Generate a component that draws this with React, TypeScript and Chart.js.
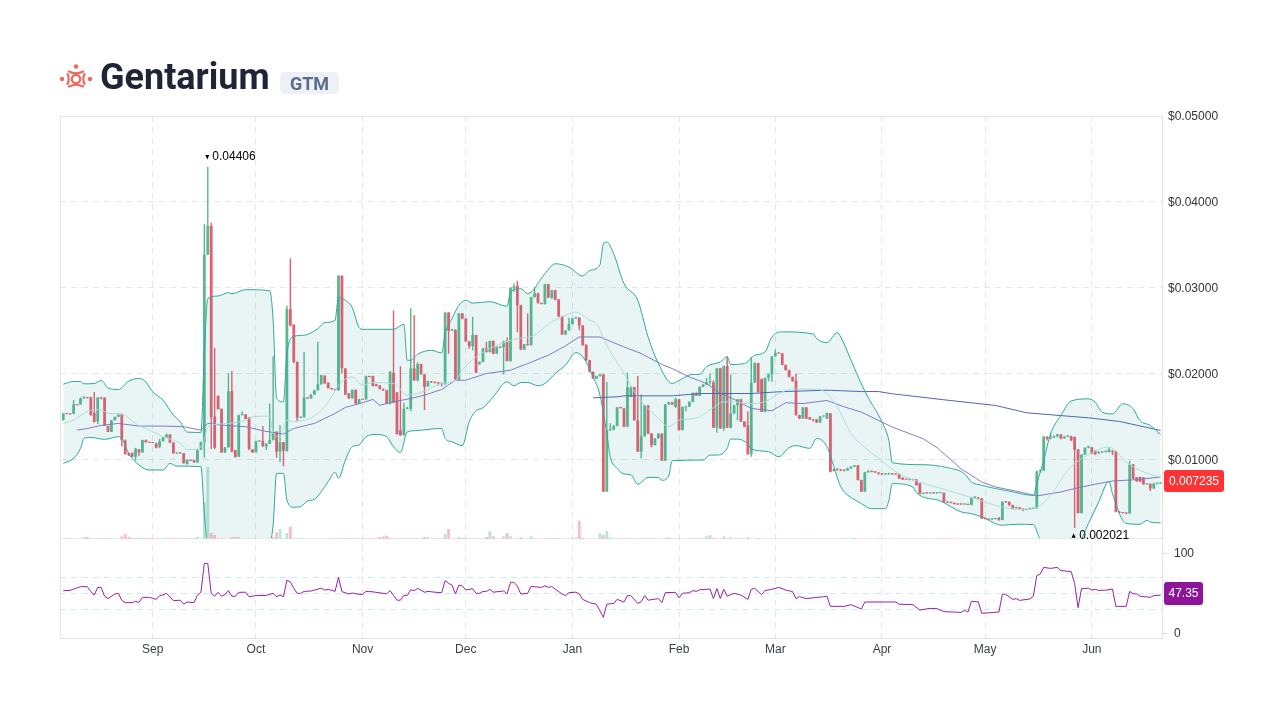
import React, { useEffect, useRef } from 'react';
import Chart from 'chart.js/auto';

// prices below are in thousandths of a dollar
const K = 0.001;

const opens = [
  14.6,15.35,15.3,15.3,16.4,16.4,17.1,17.2,17.2,15.4,
  14.4,17.2,17.2,13.9,13.2,14.55,14.95,15.3,12.2,10.7,
  10.75,10.3,11.15,10.8,12.25,12,11.95,11.85,11.5,12.1,
  12.55,12.9,11.95,10.7,10.75,10.7,9.45,9.95,9.9,9.65,
  11.15,12,33.85,37.2,15,17.4,15.9,10.8,11.4,17.95,
  11.1,10.3,15.15,15.25,14.9,11.15,10.8,12.1,12.15,11.5,
  11.8,12.25,13.2,10.9,12,11,27.5,25.7,21.35,14.85,
  14.9,17.2,17.1,17.55,18.05,18.75,19.75,18.95,18.3,18.2,
  18.05,31.4,20.6,17.7,17.1,18.1,16.5,17,17,19.7,
  19.7,18.75,18.6,18.2,18.05,16.5,20.1,17.8,13.4,12.8,
  15.9,15.9,20.6,19.2,21.1,19.9,18.5,19.05,19,18.95,
  18.9,18.75,27.1,25,25.1,19.3,27,26.4,23.75,23.2,
  24.5,21.1,21.35,22.9,22.5,23.8,22.3,23.1,23.05,23.75,
  21.45,29.9,30.2,27.95,22.8,23.4,23.3,28.9,29.35,28.2,
  28.1,30.4,28.8,29.7,28.65,26.65,24.55,25,25.75,26.4,
  26.5,25.6,23.35,21.55,20.2,19.4,19.7,19.9,6.24,13.4,
  13.45,13.9,16.05,15.95,13.8,17.3,18.4,14.55,10.9,12.7,
  16.3,13,11.65,12.45,13,9.85,16.4,16.65,16.1,17,
  13.4,16.1,16.15,16.7,17.75,17.4,18.45,18.7,18.95,18.95,
  13.7,20.6,13.6,20.85,13.7,15.35,16.3,17,14.4,13.95,
  10.6,18.95,21.2,19.35,15.55,19.5,19.9,22,22.4,22.35,
  21,20.4,19.6,19.2,15.15,14.75,16.05,14.9,14.65,14.65,
  14.3,15,14.75,15.35,8.65,8.85,8.8,8.75,8.7,8.95,
  9.15,9.3,7.6,6.25,8.5,8.6,8.55,8.45,8.35,8.25,
  8.25,8.35,8.3,8.25,7.85,7.7,7.65,7.7,7.65,7.2,
  6,6.1,6.05,6.1,6.05,6.1,6.1,5.05,5,4.95,
  4.8,4.8,4.75,4.8,4.7,5.55,5.55,5.45,3.15,3.1,
  3,3.05,3.2,2.95,5.05,5.05,4.65,4.3,4.4,4.25,
  4.1,4.2,4.25,4.3,8.6,8.7,12.65,12.4,12.55,12.7,
  12.9,12.45,12.65,12.7,12.6,11.15,3.75,10.55,11.35,11.4,
  11,10.75,10.8,10.85,10.85,11,10.95,3.9,3.8,3.75,
  3.7,9.4,7.9,7.95,7.9,7.1,7.15,6.6,7.15,7.2,
];

const closes = [
  15.35,15.3,15.25,16.4,16.3,17.1,17.2,17.15,15.15,14.35,
  17.2,17.1,13.9,13.2,14.55,14.95,15.25,12.25,10.6,10.5,
  10.3,11.25,10.8,12.25,12,11.95,11.9,11.35,12.1,12.55,
  12.9,11.95,10.7,10.75,10.7,9.55,9.95,9.85,9.65,11.15,
  12,33.85,37.2,14.9,11.35,15.85,10.8,11.4,17.95,10.9,
  10.3,15.15,15.25,14.7,11.2,10.8,12.1,12.15,11.55,11.8,
  12.25,13.2,10.9,12,11,27.5,25.6,21.35,14.85,14.9,
  17.2,17.1,17.55,18.05,18.75,19.8,18.85,18.3,18.2,18.1,
  31.4,20.6,17.55,17.1,18.1,16.5,17,16.95,19.7,19.6,
  18.55,18.55,18.2,18.05,16.5,20.2,16.6,12.95,12.8,15.9,
  16,20.6,19.2,21.1,19.9,18.45,19.1,19,18.95,18.85,
  18.8,27.1,25,25.15,19.3,27,26.4,23.75,23.2,24.5,
  20.1,21.35,22.9,22.5,23.8,22.3,23.1,23.05,23.75,21.45,
  30,30.15,27.95,22.8,23.4,23.3,28.9,29.35,28.2,28.1,
  30.4,28.85,29.7,28.6,26.65,24.55,25,25.75,26.4,26.5,
  25.6,23.3,21.55,20.2,19.4,19.7,19.9,6.24,13.4,13.45,
  13.9,16.05,16,13.8,18.4,18.4,14.55,10.9,12.7,16.3,
  13,11.65,12.45,13,9.85,16.4,16.65,16.4,17,13.4,
  16.1,16.15,16.7,17.75,17.4,18.45,18.7,18.95,19,13.7,
  20.6,13.6,20.85,13.7,15.35,16.3,17,14.4,13.8,10.6,
  18.95,21.2,17.85,15.55,19.5,19.9,22,22.4,22.35,21,
  20.4,19.6,19.1,15.15,14.75,16.05,14.75,14.65,14.55,14.3,
  15,15.05,15.4,8.55,8.85,8.8,8.7,8.7,8.95,9.15,
  9.3,7.6,6.25,8.5,8.6,8.55,8.5,8.35,8.25,8.3,
  8.3,8.25,8.25,7.75,7.65,7.65,7.7,7.6,7,6,
  6.1,6.05,6.1,6.05,6.1,6.15,5,4.95,4.95,4.8,
  4.75,4.75,4.8,4.7,5.55,5.6,5.45,3.1,3.1,3,
  3.05,3.1,2.95,5.05,5,4.65,4.25,4.4,4.25,4.1,
  4.2,4.25,4.3,8.6,8.7,12.65,12.4,12.55,12.7,12.9,
  12.4,12.65,12.75,12.2,11.1,3.75,10.55,11.35,11.5,10.65,
  10.6,10.85,10.85,10.95,11.15,10.9,3.9,3.8,3.75,3.7,
  9.4,7.75,7.45,7.4,7.1,7.15,6.6,7.15,7.2,7.235,
];

const highs = [
  15.4,15.35,15.3,16.9,16.4,17.2,17.4,17.2,17.3,17.85,
  17.2,17.3,17.2,13.9,14.6,15,15.4,15.3,12.3,10.8,
  10.8,11.35,11.2,12.3,12.3,12,12,11.9,12.4,12.6,
  13,12.95,12,10.8,10.8,10.7,10,10,9.95,11.2,
  12.05,37.4,44.06,37.6,23,17.45,15.9,11.45,20,20.3,
  11.1,15.2,15.6,15.25,14.9,11.2,12.2,12.2,13.9,11.9,
  16.5,22,13.3,14,12,27.9,33.4,25.7,21.4,15,
  22.5,17.25,17.6,18.1,23.7,19.85,19.8,18.95,18.3,18.2,
  31.45,31.4,20.6,17.7,18.15,18.15,17.05,17.05,19.75,19.75,
  19.75,18.8,18.65,18.25,18.1,20.3,27.35,17.85,20.85,16.6,
  16.1,27.6,26.8,21.3,21.15,19.9,19.2,19.1,19,19,
  18.95,27.2,27.15,25.2,25.15,27.05,27.05,26.4,23.8,26.6,
  24.5,21.4,23,23.7,23.85,23.85,23.15,23.15,23.8,24.2,
  30.05,30.5,30.8,28,23.45,27,28.95,30,29.4,28.25,
  30.45,30.45,29.75,29.75,28.65,26.7,25.05,26.5,26.5,26.6,
  26.55,25.65,23.4,21.6,20.25,19.75,19.95,19.95,19,14.2,
  14,16.1,16.1,16,20.1,18.5,18.45,19.7,17.55,16.35,
  16.3,13.05,12.5,13.05,13,16.45,16.7,16.7,17.2,17.05,
  16.15,16.2,16.75,17.8,17.8,18.5,18.8,19.5,20,19.2,
  20.65,20.65,20.9,22,19.9,16.4,17.05,17.05,14.45,15.6,
  21.9,21.3,21.25,19.4,19.55,20,22.05,22.8,22.45,22.4,
  21.05,20.45,19.65,20,15.2,16.1,16.1,14.95,14.7,14.7,
  15.05,15.1,15.45,15.4,8.95,8.95,8.85,8.8,9.05,9.2,
  9.35,9.35,7.65,8.55,8.75,8.7,8.6,8.5,8.4,8.4,
  8.45,8.4,8.35,8.3,7.9,7.75,7.75,7.75,7.7,7.25,
  6.15,6.15,6.15,6.15,6.2,6.2,6.15,5.1,5,4.95,
  4.85,4.85,4.85,4.85,5.6,5.7,5.6,5.5,3.2,3.1,
  3.1,3.15,3.25,5.1,5.15,5.1,4.7,4.5,4.45,4.3,
  4.3,4.35,4.4,8.7,8.8,12.75,12.7,13.1,12.8,13,
  12.95,12.75,12.85,12.75,12.65,11.2,10.6,11.4,11.6,11.45,
  11.05,10.95,10.95,11.05,11.4,11.05,11,3.95,3.85,3.8,
  9.85,9.45,7.95,8,7.95,7.2,7.2,7.3,7.3,7.3,
];

const lows = [
  14.5,15.25,15.2,15.3,16.3,16.4,17.1,17.1,15.1,14.3,
  14.1,17,13.9,13.2,13.2,14.55,14.95,11.5,10.6,10.4,
  10.3,9.85,10.4,10.8,11.95,11.9,11.9,11.3,11.3,12.1,
  12.5,11.9,10.7,10.65,10.65,9.5,9.4,9.8,9.6,9.6,
  11.1,10.2,33.8,11.2,11.2,15.8,10.75,10.75,11.4,10.8,
  10.2,10.3,15.1,14.7,11.05,10.8,10.8,12.05,11.4,11.1,
  11.8,12.2,10.2,9.7,9.2,10.9,25.5,21.2,14.4,14.8,
  14.85,17.05,17.1,17.55,18,18.7,18.8,18.25,18.1,18,
  18,20,17.5,17.05,17.1,16.4,16.45,16.9,16.95,19.55,
  18.5,18.5,18.15,18,16.45,16.4,16.55,12.9,12.75,12.8,
  15.85,15.6,19.15,19.1,19.85,15.75,18.45,18.9,18.85,18.6,
  18.5,18.7,22.3,24.95,19.2,19.2,26.3,23.7,22.9,22.7,
  20.05,21,21.3,22.45,22.45,22.25,22.3,22.95,19.9,21.4,
  21.4,29.5,24.8,22.75,22.75,23.25,23.25,28.85,28.15,28.05,
  28.05,28.8,28.7,28.55,26.6,24.5,24.5,25,25.7,26.35,
  25.05,23.25,21.5,20.15,19.4,19.35,19.65,6.2,6.2,13.3,
  13.4,13.85,15.9,13.75,13.8,17.25,14.5,10.85,10.1,12.65,
  12.95,11.4,11.65,12.4,9.8,9.8,16.35,16.3,16,13.35,
  13.4,15.6,16.1,16.65,17.4,17.35,18.4,18.65,18.7,13.65,
  13.1,13.55,13.3,13.65,13.6,15.3,14.55,14.35,13.75,10.55,
  10.3,18.9,17.8,15.5,15.5,19.1,19,21.95,22.3,20.95,
  20.35,19.55,19.05,15.1,14.7,14.7,14.7,14.6,14.4,14.25,
  14.25,14.95,14.7,8.5,8.6,8.7,8.65,8.6,8.65,8.9,
  9.1,7.55,6.2,6.2,8.45,8.5,8.4,8.2,8.15,8.2,
  8.2,8.2,8.2,7.7,7.6,7.6,7.55,7.55,6.95,5.95,
  5.95,6,6,6,6,6.05,4.95,4.9,4.85,4.75,
  4.7,4.7,4.7,4.65,4.65,5.5,5.4,3.05,3,2.9,
  2.95,3,2.85,2.9,4.95,4.6,4.2,4.25,4.2,3.95,
  4.05,4.15,4.2,4.25,8.4,8.65,12.2,12.35,12.5,12.55,
  12.35,12.4,12.6,12.15,2.021,3.7,3.7,10.5,11.3,10.6,
  10.55,10.6,10.75,10.8,10.8,10.5,3.85,3.75,3.7,3.6,
  3.65,7.7,7.4,7.35,7.05,7,6.3,6.55,7.1,7.15,
];

const volumes = [
  7,7,7,5,5,7,20,20,7,7,
  7,7,7,7,7,7,7,25,50,20,
  12,10,12,12,10,10,7,7,7,7,
  12,12,7,7,7,7,7,7,10,20,
  7,366,720,60,40,10,7,7,7,20,
  20,20,7,7,7,7,7,7,5,5,
  10,20,67,100,7,60,123,7,7,7,
  7,5,5,7,7,5,7,5,7,7,
  10,7,7,7,7,7,7,7,7,7,
  7,7,20,25,33,13,7,7,7,7,
  7,7,10,7,7,20,20,7,7,7,
  7,50,100,7,7,20,10,10,7,7,
  7,7,7,20,77,27,7,7,27,60,
  27,7,7,17,7,7,27,7,7,7,
  7,7,10,10,7,7,7,7,7,17,
  183,10,7,7,7,7,57,40,77,17,
  7,7,7,7,7,7,7,7,7,7,
  7,7,7,7,7,10,17,7,7,7,
  7,7,7,7,7,7,7,27,40,10,
  7,7,27,10,17,7,7,7,7,17,
  7,5,10,7,7,5,7,5,7,5,
  7,5,7,5,7,5,7,5,7,5,
  7,7,5,7,5,5,7,5,7,5,
  10,7,5,7,5,7,5,7,5,7,
  5,7,5,7,5,7,5,7,5,7,
  5,7,5,7,5,7,10,7,5,7,
  5,7,5,7,5,7,5,7,5,7,
  5,7,5,7,5,7,5,7,5,7,
  5,7,5,7,5,7,5,7,5,7,
  5,7,5,7,5,7,5,7,5,7,
  5,7,5,7,5,7,5,7,5,7,
  5,7,5,7,5,7,5,7,5,7,
];

const bbUpperDays = [
  0,3,5,6,9,11,13,16,19,22,24,26,29,32,34,36,40,41,42,45,48,49,53,60,61,62,64,65,67,70,74,76,
  79,80,82,84,86,87,96,99,100,101,103,107,110,111,113,115,117,119,124,129,130,133,135,140,143,147,151,153,
  156,157,158,160,163,167,170,173,177,179,183,185,187,191,193,194,198,201,204,206,209,218,219,222,225,226,229,
  232,234,238,240,241,250,257,262,264,267,271,275,282,283,285,287,290,293,298,300,302,305,308,311,313,316,319,
];
const bbUpper = [
  18.76,19.07,19.07,18.8,18.84,19.19,18.33,18.14,19.11,19.42,19.03,17.87,16.9,15.16,14.38,13.18,13.14,22.33,28.72,29.03,29.42,29.3,29.77,29.65,26.2,17.09,16.7,22.33,24.34,24.46,25.23,25.93,
  26.2,28.9,28.53,27.67,25.35,25.15,25.15,25.74,21.55,21.55,22.25,22.7,22.4,24.65,26.4,27.95,28.53,28.2,28.37,27.83,29.5,29.88,29.3,31.63,32.79,32.4,31.36,32,
  32.67,35.1,35.3,33.95,30.47,28.53,24.26,21.16,18.84,19.2,19.9,19.9,20.8,21.36,21.94,21.05,21.16,22.13,22.52,24.26,24.85,24.6,24.07,23.6,24.77,24.26,21.55,
  18.8,17.2,14.34,12.2,9.6,9.38,9.03,8.33,7.36,6.98,6.6,6.3,5.8,7.17,9.88,12.98,15.1,16.8,17.05,16.67,15.5,15.3,16.47,15.9,14.53,13.95,12.9,
];

const bbLowerDays = [
  0,3,5,6,8,12,16,17,19,22,25,29,31,33,40,41,42,60,61,62,64,65,67,69,71,73,75,77,79,80,82,84,86,88,91,94,96,98,
  100,102,107,110,111,113,116,118,120,122,125,129,131,133,135,138,140,143,146,149,151,154,156,158,159,161,163,165,167,170,173,174,176,177,186,188,190,193,194,196,
  199,200,205,208,211,213,217,219,222,224,226,228,231,232,235,239,240,241,247,248,255,261,264,267,273,277,282,284,295,298,301,304,305,309,313,315,316,319,
];
const bbLower = [
  9.53,10.12,11.28,12.44,12.56,12.33,12.64,12.44,10.7,9.34,8.76,8.76,9.53,9.22,9.15,3.72,0,0.3,2.36,8.37,8.37,5.27,4.42,4.5,5.15,5.35,6.24,7.4,8.49,7.8,9.92,11.47,11.67,12.64,12.9,12.64,11.47,10.8,
  13.2,13.33,13.53,13.6,12.44,12.05,11.6,14.38,15.66,16,17.29,19.03,18.57,18.95,18.95,18.57,18.84,20,20.97,22.44,21.94,19.6,17.5,13,10.3,8.95,8.3,8.2,7.1,7.9,7.9,7.56,8.06,9.84,9.92,10.5,10.5,11.28,12.36,12.36,
  11.78,11.2,10.9,10.3,11.36,11.6,11.28,12.44,11.47,9.15,6.82,5.85,5.08,4.84,4.26,4.26,5.2,7.17,6.78,6.12,5.15,3.88,3.68,3.29,2.33,2.44,2.4,0.8,0.3,2.52,5.04,7.44,6,2.52,2.44,2.9,2.7,2.6,
];

const bbMidDays = [
  0,3,8,11,13,17,21,25,29,34,36,39,41,42,44,48,53,55,60,61,63,65,67,68,71,75,78,80,84,87,90,96,100,104,110,114,116,120,125,132,137,141,145,149,
  153,155,158,163,167,173,176,179,182,185,188,192,195,199,204,208,212,219,222,225,229,232,238,243,249,257,265,272,279,283,287,292,298,304,309,314,319,
];
const bbMid = [
  14.19,14.57,15.74,15.8,15.35,15.27,14.19,13.41,12.64,11.86,11.16,11.16,12.25,13.8,14.07,14.19,14.57,14.96,15.04,13,12.64,14.57,14.38,14.46,14.65,15.7,17.29,18.64,19.6,18.64,18.95,18.84,17.5,17.8,18.84,19.22,20.39,21.94,23.1,24.07,24.46,25.8,26.6,27.17,
  26.2,25.8,23.3,20,17.3,14.77,13.8,14.57,14.7,14.96,15.74,16.7,16.7,16.5,16.7,17.67,18.18,18.18,17.67,16.12,13,11.74,9.8,8.33,7.36,6.4,5.43,4.53,4.15,4.38,5.8,8.72,10.54,11.43,9.7,8.53,7.95,
];

const maSlowDays = [
  4,7,11,16,22,29,35,40,42,46,53,58,64,67,73,75,79,82,87,90,92,96,101,105,110,114,117,123,130,135,141,146,150,156,
  163,168,174,177,182,187,191,195,200,206,210,215,222,227,232,241,250,254,261,267,271,277,283,290,295,300,305,312,319,
];
const maSlow = [
  13.41,13.6,13.95,14.19,13.88,13.88,13.8,13.41,14.19,13.99,13.8,13.33,12.95,13.6,14.19,14.57,15.35,16.05,16.6,16.98,16.3,16.7,17.09,17.48,18.14,19.22,19.22,20,20.39,21.16,22.13,23.22,24.26,24.26,
  23.1,22.33,21.05,20.58,19.6,18.84,17.67,17,15.93,15.66,16.6,16.5,16.86,16.12,15.5,13.76,12.4,11.36,8.9,7.36,6.78,6.3,5.74,6.2,6.7,7.1,7.48,7.64,7.95,
];

const maLongDays = [154,161,163,177,185,200,208,222,232,237,241,256,271,280,290,298,307,319];
const maLong = [17.17,17.29,17.4,17.4,17.67,17.67,17.87,18.06,17.9,17.9,17.64,16.94,16.28,15.43,15.1,14.84,14.42,13.37];

const rsiDays = [
  0,2,5,7,8,9,10,11,12,13,15,16,17,18,20,21,22,23,25,27,28,29,30,32,34,35,36,38,39,40,41,42,43,44,45,46,47,48,49,50,51,53,54,56,59,61,62,63,64,65,66,67,68,69,70,72,75,76,77,79,80,81,83,84,86,87,88,89,94,95,97,98,99,100,101,102,103,105,106,108,110,
  111,112,113,114,115,116,117,119,120,121,122,123,124,125,128,129,130,131,132,133,135,136,139,140,141,142,145,146,147,149,150,151,153,155,157,158,160,161,163,164,165,167,168,169,170,173,174,175,178,179,180,182,183,184,185,188,189,190,191,192,193,195,197,199,200,201,203,204,206,208,210,212,213,214,216,221,222,
  223,227,229,232,233,242,243,247,249,252,254,256,261,262,263,264,266,267,272,273,274,276,277,278,281,282,283,284,285,287,289,290,293,294,295,296,298,299,300,301,303,305,306,309,310,311,312,313,316,317,319,
];
const rsi = [
  52.9,53.3,57.9,57.9,51.7,47.5,57,57,46,43,48.75,49.6,41,37.9,37.9,39.6,38.3,44.6,44.6,42,46.7,47.5,49.6,40.4,41,36,38.75,38,47.5,50.8,87,87,49.6,46,50.8,46,48,53,46,45.8,50.8,51,45.4,46.7,47,49.6,45.4,47.5,45.4,66,64,55.8,49.6,49.6,52,52.5,56,53.75,54.6,52,69.6,51.7,48.75,50,48.3,48.3,52,52,49,53,41,41,47,47,54,53,55.8,51,52,51,50.4,
  65.4,62,60,48.75,60,58.75,53.75,55.4,49.6,49.6,52,52,54.6,51,52.5,48.75,63.3,63.3,58.75,48.75,49.6,58.3,57,59,57,58,48.75,46.7,50.4,51,48.75,42,38,35.8,19.6,36,37,42,38.75,46.7,46.7,37,39,46.7,41,43,38,50.4,50.8,44,49.6,50.4,53,52,54,55,43,55.4,43,54.6,46,49.6,47.5,42,54.6,55.8,48,53,54.6,57,53.75,51.7,43,45.4,43,45.4,46,
  33.3,33.3,35.4,30,38.75,38.75,36,35.4,28.75,30.8,30.4,26.7,25.8,28.3,26.25,39.6,39,24.6,26.25,48.75,48.3,42,43,40.8,42.5,46,71.7,73.75,82,80.8,82,78,76.7,62,31.7,55.4,56,53.75,54.6,53.3,53.5,55,33.3,33.3,52,49,49,46,44.6,46.7,47.35,
];

const monthDays = [26, 56, 87, 117, 148, 179, 207, 238, 268, 299];
const monthLabels = ['Sep', 'Oct', 'Nov', 'Dec', 'Jan', 'Feb', 'Mar', 'Apr', 'May', 'Jun'];
const priceTicks = [0.01, 0.02, 0.03, 0.04, 0.05];
const rsiTicks = [0, 30, 50, 70, 100];

const PRICE_FLOOR = 0.84;
const GREEN = '#5CB78F';
const RED = '#E95C6E';
const FONT = '"Liberation Sans", Arial, sans-serif';

const points = (days: number[], values: number[], unit = K) =>
  days.map((d, i) => ({ x: d, y: values[i] * unit }));

const isUp = (i: number) => closes[i] >= opens[i];

const paneFrame = {
  id: 'paneFrame',
  beforeDatasetsDraw(chart: any) {
    const { ctx, chartArea } = chart;
    ctx.save();
    ctx.strokeStyle = '#E4E4E4';
    ctx.lineWidth = 1;
    ctx.beginPath();
    ctx.moveTo(chartArea.left + 0.5, chartArea.top);
    ctx.lineTo(chartArea.left + 0.5, chartArea.bottom);
    ctx.moveTo(chartArea.left, chartArea.top + 0.5);
    ctx.lineTo(chartArea.right, chartArea.top + 0.5);
    ctx.stroke();
    ctx.restore();
  },
};

const drawTag = (ctx: any, x: number, y: number, w: number, h: number, color: string, text: string) => {
  ctx.fillStyle = color;
  ctx.beginPath();
  ctx.roundRect(x, y, w, h, 3);
  ctx.fill();
  ctx.fillStyle = '#fff';
  ctx.font = `12px ${FONT}`;
  ctx.textAlign = 'center';
  ctx.textBaseline = 'middle';
  ctx.fillText(text, x + w / 2, y + h / 2 + 0.5);
};

const priceNotes = {
  id: 'priceNotes',
  afterDatasetsDraw(chart: any) {
    const { ctx, scales } = chart;
    const { x, price, rsi: rsiScale } = scales;
    ctx.save();

    const high = Math.max(...highs);
    const low = Math.min(...lows);
    const hx = x.getPixelForValue(highs.indexOf(high));
    const hy = price.getPixelForValue(high * K);
    const lx = x.getPixelForValue(lows.indexOf(low));
    const ly = price.getPixelForValue(low * K);

    ctx.fillStyle = '#000';
    ctx.font = `12px ${FONT}`;
    ctx.textAlign = 'left';
    ctx.textBaseline = 'middle';
    ctx.fillText(String(high / 1000), hx + 4.5, hy - 10.5);
    ctx.fillText((low / 1000).toFixed(6), lx + 4.5, ly + 7.5);
    ctx.beginPath();
    ctx.moveTo(hx - 2.5, hy - 12);
    ctx.lineTo(hx + 1.5, hy - 12);
    ctx.lineTo(hx - 0.5, hy - 7.5);
    ctx.closePath();
    ctx.moveTo(lx - 3, ly + 10);
    ctx.lineTo(lx + 1, ly + 10);
    ctx.lineTo(lx - 1, ly + 5.5);
    ctx.closePath();
    ctx.fill();

    const lastPrice = closes[closes.length - 1];
    const lastRsi = rsi[rsi.length - 1];
    drawTag(ctx, 1164, price.getPixelForValue(lastPrice * K) - 13, 60, 22, '#FF3333', (lastPrice / 1000).toFixed(6));
    drawTag(ctx, 1164, rsiScale.getPixelForValue(lastRsi) - 13, 39, 23, '#8E1599', lastRsi.toFixed(2));
    ctx.restore();
  },
};

const App: React.FC = () => {
  const canvasRef = useRef<HTMLCanvasElement | null>(null);

  useEffect(() => {
    const ctx = canvasRef.current?.getContext('2d');
    if (!ctx) return;

    const lineBase = { type: 'line', pointRadius: 0, xAxisID: 'x', order: 0 };
    const bandBase = { ...lineBase, yAxisID: 'price', borderWidth: 1, cubicInterpolationMode: 'monotone' };
    const barBase = { type: 'bar', xAxisID: 'x', grouped: false, inflateAmount: 0 };
    const tickFont = { family: FONT, size: 12 };

    const chart = new Chart(ctx, {
      type: 'line',
      data: {
        datasets: [
          {
            ...bandBase,
            label: 'BB upper',
            data: points(bbUpperDays, bbUpper),
            borderColor: '#2FA89A',
            fill: '+1',
            backgroundColor: 'rgba(30,160,150,0.1)',
          },
          {
            ...bandBase,
            label: 'BB fill edge',
            data: points(bbLowerDays, bbLower.map((v) => Math.max(v, PRICE_FLOOR))),
            borderColor: 'transparent',
            borderWidth: 0,
          },
          {
            ...bandBase,
            label: 'BB lower',
            data: points(bbLowerDays, bbLower),
            borderColor: '#2FA89A',
          },
          {
            ...bandBase,
            label: 'BB mid',
            data: points(bbMidDays, bbMid),
            borderColor: '#BDE4DE',
          },
          {
            ...lineBase,
            label: 'MA slow',
            yAxisID: 'price',
            data: points(maSlowDays, maSlow),
            borderColor: '#8A78C8',
            borderWidth: 1,
          },
          {
            ...lineBase,
            label: 'MA long',
            yAxisID: 'price',
            data: points(maLongDays, maLong),
            borderColor: '#5263B8',
            borderWidth: 1,
          },
          {
            ...lineBase,
            label: 'RSI',
            yAxisID: 'rsi',
            data: points(rsiDays, rsi, 1),
            borderColor: '#9A1FA8',
            borderWidth: 1,
          },
          {
            ...barBase,
            label: 'Bodies',
            yAxisID: 'price',
            order: 1,
            barThickness: 2.8,
            minBarLength: 1,
            data: opens.map((o, i) => ({ x: i, y: [o * K, closes[i] * K] })),
            backgroundColor: opens.map((_, i) => (isUp(i) ? GREEN : RED)),
          },
          {
            ...barBase,
            label: 'Wicks',
            yAxisID: 'price',
            order: 2,
            barThickness: 1.4,
            data: lows.map((l, i) => ({ x: i, y: [l * K, highs[i] * K] })),
            backgroundColor: lows.map((_, i) => (isUp(i) ? GREEN : RED)),
          },
          {
            ...barBase,
            label: 'Volume',
            yAxisID: 'volume',
            order: 3,
            barThickness: 2.8,
            data: volumes.map((v, i) => ({ x: i, y: v })),
            backgroundColor: volumes.map((_, i) => (isUp(i) ? 'rgba(80,185,145,0.4)' : 'rgba(240,90,110,0.4)')),
          },
        ],
      } as any,
      options: {
        responsive: false,
        animation: false,
        layout: { padding: { left: 60, top: 116, right: 0, bottom: 0 } },
        plugins: { legend: { display: false }, tooltip: { enabled: false } },
        scales: {
          x: {
            type: 'linear',
            position: 'bottom',
            min: -0.96,
            max: 319.4,
            offset: false,
            grid: { offset: false, color: '#E6E6E6', drawTicks: false },
            border: { color: '#E4E4E4', dash: [6, 5] },
            ticks: {
              color: '#3A3F47',
              font: tickFont,
              padding: 4,
              maxRotation: 0,
              autoSkip: false,
              callback: (v: any) => monthLabels[monthDays.indexOf(v)] ?? '',
            },
            afterBuildTicks: (s: any) => {
              s.ticks = monthDays.map((value) => ({ value }));
            },
            afterFit: (s: any) => {
              s.height = 82;
            },
          },
          price: {
            type: 'linear',
            position: 'right',
            stack: 'panes',
            stackWeight: 422,
            min: PRICE_FLOOR * K,
            max: 0.05,
            grid: { color: '#E6E6E6', tickLength: 5, tickColor: 'transparent' },
            border: { color: '#E4E4E4', dash: [6, 5] },
            ticks: {
              color: '#333',
              font: tickFont,
              padding: 1,
              labelOffset: 1,
              autoSkip: false,
              callback: (v: any) => '$' + Number(v).toFixed(5),
            },
            afterBuildTicks: (s: any) => {
              s.ticks = priceTicks.map((value) => ({ value }));
            },
            afterFit: (s: any) => {
              s.width = 118;
            },
          },
          rsi: {
            type: 'linear',
            position: 'right',
            stack: 'panes',
            stackWeight: 100,
            min: -6.25,
            max: 118.75,
            grid: {
              tickLength: 5,
              color: (c: any) => (c.tick && c.tick.value > 0 && c.tick.value < 100 ? '#CDEAF5' : 'transparent'),
              tickColor: (c: any) => (c.tick && c.tick.value > 0 && c.tick.value < 100 ? 'transparent' : '#D8D8D8'),
            },
            border: { color: '#E4E4E4', dash: [6, 5] },
            ticks: {
              color: '#333',
              font: tickFont,
              padding: 7,
              labelOffset: 1,
              autoSkip: false,
              callback: (v: any) => (v === 0 || v === 100 ? String(v) : ''),
            },
            afterBuildTicks: (s: any) => {
              s.ticks = rsiTicks.map((value) => ({ value }));
            },
            afterFit: (s: any) => {
              s.width = 118;
            },
          },
          volume: {
            type: 'linear',
            position: 'right',
            display: false,
            min: -990,
            max: 4230,
          },
        },
      } as any,
      plugins: [paneFrame, priceNotes],
    });

    return () => chart.destroy();
  }, []);

  return (
    <div style={{ position: 'fixed', left: 0, top: 0, width: 1280, height: 720, background: '#fff' }}>
      <canvas ref={canvasRef} width={1280} height={720} style={{ position: 'absolute', left: 0, top: 0 }} />
      <svg width="34" height="34" viewBox="0 0 34 34" style={{ position: 'absolute', left: 59, top: 62 }}>
        <g fill="none" stroke="#F0685A" strokeWidth="2.2" strokeLinecap="round">
          <circle cx="17" cy="17" r="4.2" />
          <path d="M10 9.5 Q17 13 24 9.5" />
          <path d="M10 24.5 Q17 21 24 24.5" />
          <path d="M8.5 12 Q11 17 8.5 22" />
          <path d="M25.5 12 Q23 17 25.5 22" />
        </g>
        <g fill="#F0685A">
          <circle cx="17" cy="4.5" r="2.2" />
          <circle cx="3" cy="17" r="2.2" />
          <circle cx="31" cy="17" r="2.2" />
        </g>
      </svg>
      <div
        style={{
          position: 'absolute',
          left: 100,
          top: 56,
          font: '700 36px Roboto, sans-serif',
          lineHeight: '42px',
          color: '#1F2437',
        }}
      >
        Gentarium
      </div>
      <div
        style={{
          position: 'absolute',
          left: 280,
          top: 72,
          width: 59,
          height: 22,
          borderRadius: 5,
          background: '#EDF0F5',
          color: '#5B6B8C',
          font: '700 18px Roboto, sans-serif',
          lineHeight: '23px',
          textAlign: 'center',
        }}
      >
        GTM
      </div>
    </div>
  );
};

export default App;
